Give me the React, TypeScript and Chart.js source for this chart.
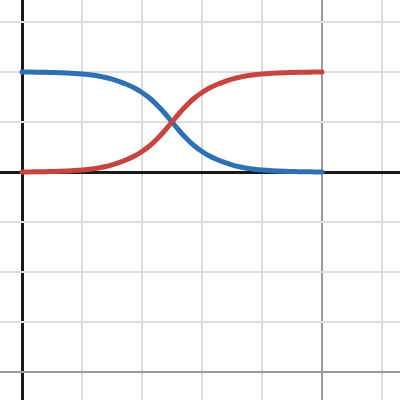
import React, { useEffect, useRef } from "react";
import { Chart, registerables } from "chart.js";

Chart.register(...registerables);

const xValues = [
  0, 0.025, 0.05, 0.075, 0.1, 0.125, 0.15, 0.175, 0.2, 0.225, 0.25, 0.275, 0.3, 0.325, 0.35, 0.375, 0.4, 0.425, 0.45, 0.475, 0.5,
  0.525, 0.55, 0.575, 0.6, 0.625, 0.65, 0.675, 0.7, 0.725, 0.75, 0.775, 0.8, 0.825, 0.85, 0.875, 0.9, 0.925, 0.95, 0.975, 1,
];
const redValues = [
  0, 0.001, 0.002, 0.003, 0.005, 0.007, 0.01, 0.014, 0.02, 0.028, 0.038, 0.052, 0.072, 0.096, 0.125, 0.16, 0.205, 0.26, 0.33, 0.41, 0.5,
  0.59, 0.67, 0.74, 0.795, 0.84, 0.875, 0.904, 0.928, 0.948, 0.962, 0.972, 0.98, 0.986, 0.99, 0.993, 0.995, 0.997, 0.998, 0.999, 1,
];
const blueValues = [
  1, 0.999, 0.998, 0.997, 0.995, 0.993, 0.99, 0.986, 0.98, 0.972, 0.962, 0.948, 0.928, 0.904, 0.875, 0.84, 0.795, 0.74, 0.67, 0.59, 0.5,
  0.41, 0.33, 0.26, 0.205, 0.16, 0.125, 0.096, 0.072, 0.052, 0.038, 0.028, 0.02, 0.014, 0.01, 0.007, 0.005, 0.003, 0.002, 0.001, 0,
];
const xTicks = [0, 0.2, 0.4, 0.6, 0.8, 1, 1.2];
const yTicks = [1.5, 1, 0.5, 0, -0.5, -1, -1.5, -2];
const xMajor = [1];
const yMajor = [-2];

export default function App() {
  const ref = useRef<HTMLCanvasElement>(null);
  useEffect(() => {
    document.body.style.margin = "0";
    const gridColor = (major: number[]) => (ctx: any) => {
      const v = ctx.tick ? ctx.tick.value : null;
      if (v === 0) return "#1a1a1a";
      if (v !== null && major.some((m) => Math.abs(m - v) < 1e-9)) return "#9a9a9a";
      return "#dcdcdc";
    };
    const gridWidth = (ctx: any) => {
      const v = ctx.tick ? ctx.tick.value : null;
      if (v === 0) return 3;
      return 2;
    };
    const chart = new Chart(ref.current!, {
      type: "scatter",
      data: {
        datasets: [
          {
            label: "red",
            data: xValues.map((x, i) => ({ x, y: redValues[i] })),
            showLine: true,
            borderColor: "#c74440",
            borderWidth: 5,
            pointRadius: 0,
            cubicInterpolationMode: "monotone",
            borderCapStyle: "round",
            borderJoinStyle: "round",
          },
          {
            label: "blue",
            data: xValues.map((x, i) => ({ x, y: blueValues[i] })),
            showLine: true,
            borderColor: "#2d70b3",
            borderWidth: 5,
            pointRadius: 0,
            cubicInterpolationMode: "monotone",
            borderCapStyle: "round",
            borderJoinStyle: "round",
          },
        ],
      },
      options: {
        animation: false,
        responsive: false,
        maintainAspectRatio: false,
        layout: { padding: 0 },
        plugins: { legend: { display: false }, tooltip: { enabled: false } },
        scales: {
          x: {
            type: "linear",
            min: -22 / 300,
            max: 378 / 300,
            afterBuildTicks: (scale: any) => {
              scale.ticks = xTicks.map((value) => ({ value }));
            },
            ticks: { display: false },
            border: { display: false },
            grid: { drawTicks: false, color: gridColor(xMajor), lineWidth: gridWidth },
          },
          y: {
            type: "linear",
            min: -2.28,
            max: 1.72,
            afterBuildTicks: (scale: any) => {
              scale.ticks = yTicks.map((value) => ({ value }));
            },
            ticks: { display: false },
            border: { display: false },
            grid: { drawTicks: false, color: gridColor(yMajor), lineWidth: gridWidth },
          },
        },
      },
    });
    return () => chart.destroy();
  }, []);
  return (
    <div style={{ position: "fixed", left: 0, top: 0, width: 400, height: 400, background: "#fff" }}>
      <canvas ref={ref} width={400} height={400} />
    </div>
  );
}
